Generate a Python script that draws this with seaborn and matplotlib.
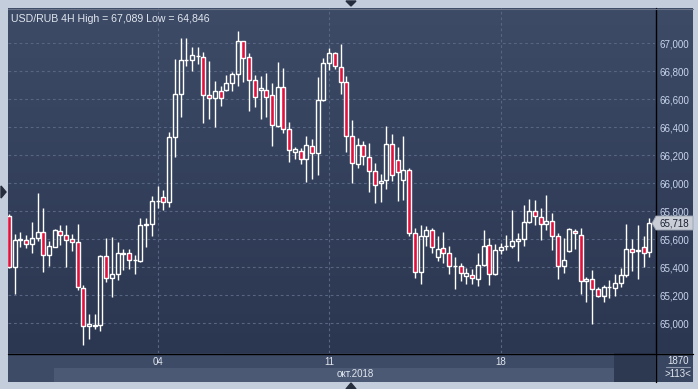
import matplotlib
matplotlib.use('Agg')
import matplotlib.pyplot as plt
import numpy as np
import pandas as pd
import seaborn as sns
from matplotlib.ticker import FuncFormatter
from matplotlib.patches import Polygon, Rectangle

# USD/RUB 4H candles
opens = [65.766, 65.404, 65.598, 65.593, 65.566, 65.607, 65.650, 65.486, 65.547, 65.657,
         65.629, 65.600, 65.579, 65.250, 64.979, 64.984, 64.986, 65.479, 65.321, 65.350,
         65.493, 65.500, 65.450, 65.443, 65.702, 65.707, 65.871, 65.900, 65.866, 66.329,
         66.636, 66.879, 66.879, 66.912, 66.900, 66.629, 66.607, 66.657, 66.664, 66.714,
         66.779, 67.016, 66.900, 66.736, 66.664, 66.664, 66.629, 66.407, 66.686, 66.386,
         66.221, 66.229, 66.171, 66.264, 66.214, 66.593, 66.857, 66.929, 66.829, 66.721,
         66.336, 66.136, 66.271, 66.186, 66.086, 66.000, 66.021, 66.279, 66.164, 66.021,
         66.093, 65.643, 65.364, 65.621, 65.664, 65.471, 65.536, 65.500, 65.408, 65.407,
         65.336, 65.343, 65.314, 65.414, 65.557, 65.350, 65.521, 65.549, 65.550, 65.586,
         65.600, 65.721, 65.800, 65.757, 65.707, 65.729, 65.621, 65.407, 65.514, 65.657,
         65.629, 65.300, 65.314, 65.243, 65.193, 65.256, 65.250, 65.286, 65.343, 65.529,
         65.520, 65.543, 65.507]
highs = [65.781, 65.638, 65.652, 65.629, 65.724, 65.931, 65.824, 65.588, 65.671, 65.700,
         65.700, 65.636, 65.709, 65.274, 65.066, 65.066, 65.488, 65.607, 65.616, 65.581,
         65.529, 65.529, 65.490, 65.752, 65.752, 65.909, 65.981, 65.952, 66.364, 66.888,
         67.036, 67.036, 66.971, 66.971, 66.936, 66.874, 66.729, 66.693, 66.771, 66.793,
         67.089, 67.020, 66.929, 66.771, 66.764, 66.786, 66.714, 66.864, 66.821, 66.436,
         66.257, 66.250, 66.336, 66.314, 66.757, 66.893, 66.964, 66.936, 66.993, 66.764,
         66.450, 66.321, 66.300, 66.286, 66.143, 66.064, 66.407, 66.350, 66.257, 66.336,
         66.107, 65.679, 65.700, 65.693, 65.679, 65.621, 65.650, 65.550, 65.471, 65.429,
         65.393, 65.386, 65.500, 65.664, 65.607, 65.564, 65.571, 65.629, 65.807, 65.643,
         65.843, 65.888, 65.881, 65.824, 65.916, 65.788, 65.643, 65.607, 65.679, 65.671,
         65.679, 65.329, 65.379, 65.257, 65.271, 65.307, 65.350, 65.393, 65.707, 65.600,
         65.700, 65.621, 65.750]
lows = [65.395, 65.209, 65.547, 65.540, 65.504, 65.588, 65.369, 65.411, 65.543, 65.561,
        65.404, 65.519, 65.238, 64.846, 64.890, 64.957, 64.947, 65.297, 65.190, 65.309,
        65.379, 65.386, 65.350, 65.436, 65.543, 65.626, 65.821, 65.809, 65.833, 66.186,
        66.476, 66.840, 66.800, 66.854, 66.433, 66.461, 66.400, 66.554, 66.657, 66.657,
        66.693, 66.721, 66.519, 66.543, 66.461, 66.476, 66.269, 66.400, 66.357, 66.150,
        66.176, 66.136, 66.007, 66.029, 66.057, 66.586, 66.807, 66.814, 66.636, 66.221,
        66.000, 66.107, 66.129, 65.936, 65.857, 65.864, 65.957, 66.014, 65.871, 65.879,
        65.621, 65.321, 65.279, 65.550, 65.500, 65.443, 65.429, 65.350, 65.243, 65.300,
        65.279, 65.279, 65.264, 65.410, 65.271, 65.345, 65.493, 65.521, 65.536, 65.447,
        65.550, 65.714, 65.700, 65.593, 65.664, 65.521, 65.314, 65.357, 65.507, 65.529,
        65.207, 65.150, 64.993, 65.186, 65.150, 65.179, 65.193, 65.257, 65.329, 65.371,
        65.314, 65.400, 65.471]
closes = [65.404, 65.595, 65.600, 65.564, 65.607, 65.650, 65.486, 65.550, 65.664, 65.629,
          65.593, 65.579, 65.257, 64.979, 64.993, 64.986, 65.481, 65.321, 65.350, 65.500,
          65.500, 65.450, 65.451, 65.702, 65.707, 65.871, 65.872, 65.864, 66.329, 66.636,
          66.879, 66.880, 66.914, 66.911, 66.629, 66.609, 66.657, 66.607, 66.714, 66.779,
          67.016, 66.893, 66.736, 66.614, 66.679, 66.614, 66.414, 66.686, 66.386, 66.236,
          66.243, 66.171, 66.271, 66.214, 66.593, 66.857, 66.929, 66.836, 66.721, 66.336,
          66.143, 66.271, 66.193, 66.086, 65.986, 66.014, 66.279, 66.057, 66.079, 66.093,
          65.643, 65.364, 65.621, 65.664, 65.543, 65.529, 65.500, 65.407, 65.409, 65.357,
          65.357, 65.321, 65.414, 65.550, 65.350, 65.521, 65.543, 65.550, 65.586, 65.600,
          65.721, 65.800, 65.764, 65.707, 65.729, 65.621, 65.407, 65.450, 65.671, 65.643,
          65.300, 65.314, 65.243, 65.193, 65.257, 65.257, 65.286, 65.343, 65.529, 65.507,
          65.521, 65.500, 65.718]

date_pos = [26, 56, 86]
date_labels = ['04', '11', '18']
price_ticks = [65.0, 65.2, 65.4, 65.6, 65.8, 66.0, 66.2, 66.4, 66.6, 66.8, 67.0]
title = 'USD/RUB 4H High = 67,089 Low = 64,846'
last_price = 65.718

df = pd.DataFrame({'open': opens, 'high': highs, 'low': lows, 'close': closes})
df['x'] = np.arange(len(df))
df['up'] = df['close'] >= df['open']

sns.set_style('dark')
plt.rcParams['font.family'] = ['Liberation Sans', 'DejaVu Sans']

W, H = 698, 389
fig = plt.figure(figsize=(W / 100, H / 100), dpi=100)
fig.patch.set_facecolor('#c3cddb')


def fx(px):
    return px / W


def fy(py):
    return 1 - py / H


red = '#e3103c'
grid_col = '#586583'
top_col = np.array([61, 75, 103]) / 255
bot_col = np.array([43, 54, 80]) / 255
txt_col = '#e2e7ef'

# candle spacing in pixels and pixel->data helpers
step = 5.717
x0 = 9
y_of = lambda py: 66 - (py - 183.3) / 140
ax_l, ax_r, ax_t, ax_b = 8, 655, 8, 353

ax = fig.add_axes([fx(ax_l), fy(ax_b), fx(ax_r - ax_l), (ax_b - ax_t) / H])
xlim = ((ax_l - x0) / step, (ax_r - x0) / step)
ylim = (y_of(ax_b), y_of(ax_t))
ax.set_xlim(*xlim)
ax.set_ylim(*ylim)

grad = np.linspace(0, 1, 256)[:, None]
img = top_col[None, None, :] * (1 - grad[..., None]) + bot_col[None, None, :] * grad[..., None]
ax.imshow(img, extent=[xlim[0], xlim[1], ylim[0], ylim[1]], aspect='auto', zorder=0)

for p in price_ticks:
    ax.axhline(p, color=grid_col, lw=0.8, ls=(0, (2.5, 2.5)), zorder=1)
for d in date_pos:
    ax.axvline(d, color=grid_col, lw=0.8, ls=(0, (2.5, 2.5)), zorder=1)

body_top = df[['open', 'close']].max(axis=1)
body_bot = df[['open', 'close']].min(axis=1)
ax.vlines(df['x'], body_top, df['high'], color='white', lw=1.0, zorder=2)
ax.vlines(df['x'], df['low'], body_bot, color='white', lw=1.0, zorder=2)
heights = (body_top - body_bot).clip(lower=0.0005)
faces = ['none' if u else red for u in df['up']]
ax.bar(df['x'], heights, bottom=body_bot, width=0.7, color=faces,
       edgecolor='white', linewidth=1.0, zorder=3)

ax.set_yticks(price_ticks)
ax.yaxis.tick_right()
ax.yaxis.set_major_formatter(FuncFormatter(lambda v, _: f'{v:.3f}'.replace('.', ',')))
ax.tick_params(axis='y', length=0, pad=3, labelsize=7, labelcolor='#c9d5ec')
ax.set_xticks([])
ax.grid(False)
for s in ax.spines.values():
    s.set_visible(False)

ax.text(0.004, 0.982, title, transform=ax.transAxes, ha='left', va='top',
        fontsize=7.6, color=txt_col, zorder=5)

# right price panel
rp = fig.add_axes([fx(ax_r), fy(ax_b), fx(693 - ax_r), (ax_b - ax_t) / H], zorder=-1)
rp.imshow(img, extent=[0, 1, 0, 1], aspect='auto')
rp.set_xlim(0, 1)
rp.set_ylim(0, 1)
rp.axis('off')

# last price tag
ty = fy(223.3)
tag = Polygon([[fx(652), ty], [fx(656), fy(216)], [fx(693), fy(216)], [fx(693), fy(230)], [fx(656), fy(230)]],
              closed=True, transform=fig.transFigure, facecolor='#c8cdd6', edgecolor='#9aa2b0', lw=0.6, zorder=10)
fig.patches.append(tag)
fig.text(fx(659), ty, f'{last_price:.3f}'.replace('.', ','), ha='left', va='center',
         fontsize=7, color='#1c2233', zorder=11)

# date strip at the bottom
strip = fig.add_axes([fx(ax_l), fy(382), fx(693 - ax_l), (382 - ax_b) / H])
strip.set_xlim(ax_l, 693)
strip.set_ylim(382, ax_b)
strip.axis('off')
strip.add_patch(Rectangle((ax_l, ax_b), 693 - ax_l, 382 - ax_b, color='#3e4b67', lw=0))
strip.add_patch(Rectangle((54, 368), 560, 14, color='#4b5975', lw=0))
strip.add_patch(Rectangle((614, ax_b), 41, 382 - ax_b, color='#2d3851', lw=0))
strip.add_patch(Rectangle((ax_r, ax_b), 693 - ax_r, 382 - ax_b, color='#394661', lw=0))
strip.plot([666, 690], [367.5, 367.5], color='#8d98ad', lw=0.8)
for d, lab in zip(date_pos, date_labels):
    strip.text(x0 + d * step, 362, lab, ha='center', va='center', fontsize=7, color=txt_col)
strip.text(355, 374, 'окт.2018', ha='center', va='center', fontsize=7, color=txt_col)
strip.text(678, 361, '1870', ha='center', va='center', fontsize=7, color=txt_col)
strip.text(678, 374, '>113<', ha='center', va='center', fontsize=7, color=txt_col)

# frame lines
fig.add_artist(plt.Line2D([fx(655.5), fx(655.5)], [fy(382), fy(8)], color='black', lw=1.0))
fig.add_artist(plt.Line2D([fx(8), fx(693)], [fy(353.5), fy(353.5)], color='black', lw=1.0))
fig.add_artist(plt.Line2D([fx(8), fx(693)], [fy(8.5), fy(8.5)], color='#6b7488', lw=0.8))

# small navigation triangles
tri_col = '#262d3c'
for pts in ([[346, 1], [356, 1], [351, 6]], [[1, 186], [1, 198], [6, 192]], [[346, 389], [356, 389], [351, 383]]):
    fig.patches.append(Polygon([[fx(a), fy(b)] for a, b in pts], closed=True,
                               transform=fig.transFigure, color=tri_col, zorder=12))

fig.savefig('out.png', dpi=100, facecolor=fig.get_facecolor())
